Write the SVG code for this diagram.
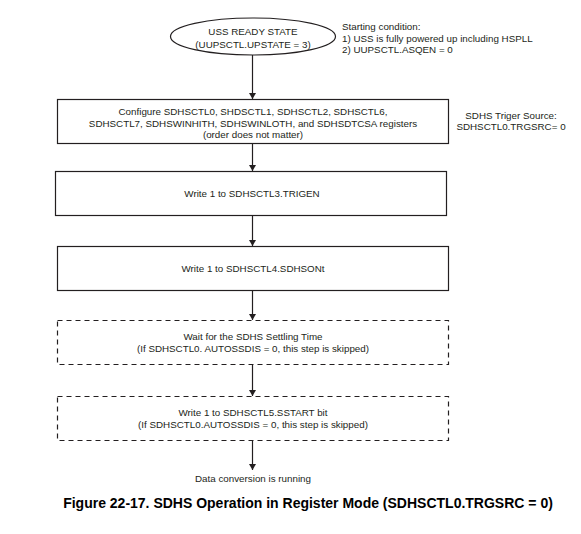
<svg xmlns="http://www.w3.org/2000/svg" width="581" height="534" viewBox="0 0 581 534">
<style>
  text { font-family: "Liberation Sans", Arial, sans-serif; font-size: 9.8px; fill: #231f20; }
  .c { text-anchor: middle; }
  .box { fill: #ffffff; stroke: #231f20; stroke-width: 1.2; }
  .dash { stroke-dasharray: 5 4; }
  .conn { stroke: #231f20; stroke-width: 1.2; fill: none; marker-end: url(#ah); }
  .cap { font-weight: bold; font-size: 14px; fill: #000000; }
</style>
<defs>
  <marker id="ah" markerWidth="8" markerHeight="8" refX="6" refY="3.5" orient="auto" markerUnits="userSpaceOnUse">
    <path d="M0,0 L6,3.5 L0,7 Z" fill="#231f20"/>
  </marker>
</defs>
<rect width="581" height="534" fill="#ffffff"/>

<g id="connectors">
  <line class="conn" x1="252.5" y1="55" x2="252.5" y2="99"/>
  <line class="conn" x1="252.5" y1="143.5" x2="252.5" y2="171"/>
  <line class="conn" x1="252.5" y1="215.5" x2="252.5" y2="246"/>
  <line class="conn" x1="252.5" y1="290.5" x2="252.5" y2="320"/>
  <line class="conn" x1="252.5" y1="364.5" x2="252.5" y2="396"/>
  <line class="conn" x1="252.5" y1="440.5" x2="252.5" y2="470"/>
</g>

<g id="start">
  <ellipse cx="253" cy="36.5" rx="82.5" ry="18.5" class="box"/>
  <text class="c" x="253" y="35">USS READY STATE</text>
  <text class="c" x="253" y="48">(UUPSCTL.UPSTATE = 3)</text>
</g>

<g id="start-note">
  <text x="342" y="30">Starting condition:</text>
  <text x="342" y="41.5">1) USS is fully powered up including HSPLL</text>
  <text x="342" y="53">2) UUPSCTL.ASQEN = 0</text>
</g>

<g id="configure">
  <rect class="box" x="57.5" y="99.5" width="391" height="44"/>
  <text class="c" x="253" y="115">Configure SDHSCTL0, SHDSCTL1, SDHSCTL2, SDHSCTL6,</text>
  <text class="c" x="253" y="126.5">SDHSCTL7, SDHSWINHITH, SDHSWINLOTH, and SDHSDTCSA registers</text>
  <text class="c" x="253" y="138">(order does not matter)</text>
</g>

<g id="trigger-note">
  <text class="c" x="511" y="118.5">SDHS Triger Source:</text>
  <text class="c" x="511" y="130">SDHSCTL0.TRGSRC= 0</text>
</g>

<g id="trigen">
  <rect class="box" x="55.5" y="171.5" width="391" height="44"/>
  <text class="c" x="252" y="197">Write 1 to SDHSCTL3.TRIGEN</text>
</g>

<g id="sdhson">
  <rect class="box" x="57.5" y="246.5" width="391" height="44"/>
  <text class="c" x="253" y="272">Write 1 to SDHSCTL4.SDHSONt</text>
</g>

<g id="settling">
  <rect class="box dash" x="57.5" y="320.5" width="391" height="44"/>
  <text class="c" x="253" y="340">Wait for the SDHS Settling Time</text>
  <text class="c" x="253" y="351.5">(If SDHSCTL0. AUTOSSDIS = 0, this step is skipped)</text>
</g>

<g id="sstart">
  <rect class="box dash" x="57.5" y="396.5" width="391" height="44"/>
  <text class="c" x="253" y="416">Write 1 to SDHSCTL5.SSTART bit</text>
  <text class="c" x="253" y="427.5">(If SDHSCTL0.AUTOSSDIS = 0, this step is skipped)</text>
</g>

<g id="running">
  <text class="c" x="253" y="482">Data conversion is running</text>
</g>

<text class="cap" x="308" y="508" text-anchor="middle">Figure 22-17. SDHS Operation in Register Mode (SDHSCTL0.TRGSRC = 0)</text>
</svg>
